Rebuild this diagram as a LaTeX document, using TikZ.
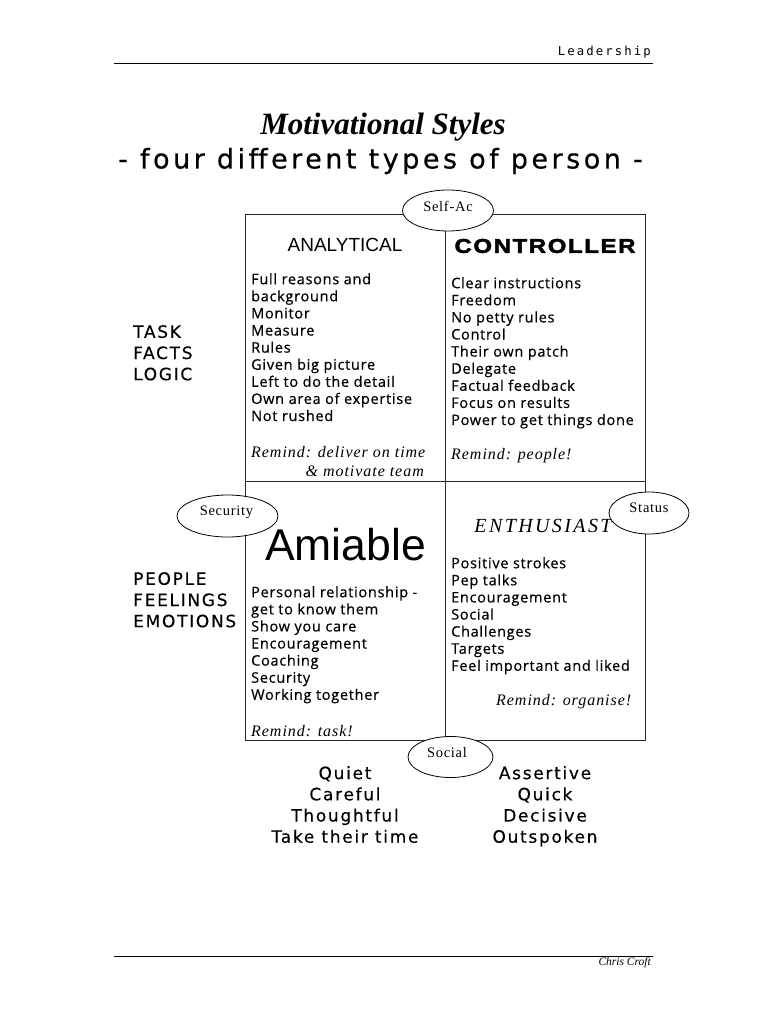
\documentclass[tikz,border=0pt]{standalone}
\usepackage{fontspec}
\setmainfont{Open Sans}
\newfontfamily\titlef{Liberation Serif}
\newfontfamily\arialf{Liberation Sans}
\newfontfamily\ctrlf[FakeBold=2.2,FakeStretch=1.2,LetterSpace=8]{Liberation Sans}
\newfontfamily\bodyf[FakeBold=0.5,LetterSpace=5]{Open Sans}
\newfontfamily\sidef[FakeBold=0.3,LetterSpace=10]{DejaVu Sans}
\newfontfamily\subf[LetterSpace=13,FakeBold=0.5]{DejaVu Sans}
\newfontfamily\hdrf[LetterSpace=17]{DejaVu Sans Mono}
\newfontfamily\remindf[LetterSpace=6]{Liberation Serif}
\newfontfamily\bubf[LetterSpace=5]{Liberation Serif}
\newfontfamily\entf[LetterSpace=12]{Liberation Serif}
\usetikzlibrary{shapes.geometric}
\tikzset{
 x=1pt,y=-1pt,
 rule/.style={line width=0.8pt,black},
 gridline/.style={line width=0.9pt,black!85},
 body/.style={anchor=north west,inner sep=0pt,align=left,font=\bodyf\fontsize{14.5}{17.1}\selectfont},
 side/.style={anchor=north west,inner sep=0pt,align=left,font=\sidef\fontsize{17}{21.2}\selectfont},
 under/.style={anchor=north,inner sep=0pt,align=center,font=\sidef\fontsize{17}{21.2}\selectfont},
 remind/.style={anchor=west,inner sep=0pt,font=\remindf\itshape\fontsize{16}{18}\selectfont},
 bub/.style={draw=black,fill=white,ellipse,line width=0.8pt,inner sep=0pt},
 bubtext/.style={inner sep=0pt,font=\bubf\fontsize{14.5}{16}\selectfont},
}
\begin{document}
\begin{tikzpicture}
\useasboundingbox[fill=white] (0,0) rectangle (768,1024);
\node[anchor=east,inner sep=0pt,font=\hdrf\fontsize{12.3}{14}\selectfont] (hdr) at (651,52) {Leadership};
\coordinate (t1) at (114,63);\coordinate (t2) at (653,63);
\draw[rule] (t1)--(t2);
\node[inner sep=0pt,font=\titlef\itshape\bfseries\fontsize{31}{34}\selectfont] (title) at (383,127) {Motivational Styles};
\node[inner sep=0pt,font=\subf\fontsize{27}{30}\selectfont] (sub) at (380.5,161) {- four dif\kern0pt ferent types of person -};
\node[draw=black!85,line width=0.9pt,minimum width=400,minimum height=526,inner sep=0pt,anchor=north west] (grid) at (245,214) {};
\coordinate (vt) at (445,214);\coordinate (vb) at (445,740);
\coordinate (hl) at (245,481);\coordinate (hr) at (645,481);
\draw[gridline] (vt)--(vb);
\draw[gridline] (hl)--(hr);
\node[inner sep=0pt,font=\arialf\fontsize{19}{22}\selectfont] (ana) at (345,245) {ANALYTICAL};
\node[inner sep=0pt,font=\ctrlf\bfseries\fontsize{20}{22}\selectfont] (con) at (545,246) {CONTROLLER};
\node[inner sep=0pt,font=\arialf\fontsize{44.5}{48}\selectfont] (ami) at (345.5,545) {Amiable};
\node[inner sep=0pt,font=\entf\itshape\fontsize{20}{22}\selectfont] (ent) at (543,526) {ENTHUSIAST};
\node[body] (b1) at (251,273) {Full reasons and\\background\\Monitor\\Measure\\Rules\\Given big picture\\Left to do the detail\\Own area of expertise\\Not rushed};
\node[body] (b2) at (451,277) {Clear instructions\\Freedom\\No petty rules\\Control\\Their own patch\\Delegate\\Factual feedback\\Focus on results\\Power to get things done};
\node[body] (b3) at (251,586) {Personal relationship -\\get to know them\\Show you care\\Encouragement\\Coaching\\Security\\Working together};
\node[body] (b4) at (451,557) {Positive strokes\\Pep talks\\Encouragement\\Social\\Challenges\\Targets\\Feel important and liked};
\node[remind] (r1) at (251,452) {Remind: deliver on time};
\node[remind,anchor=east] (r1b) at (424,471) {\& motivate team};
\node[remind] (r2) at (451,456) {Remind: people!};
\node[remind] (r3) at (251,731) {Remind: task!};
\node[remind] (r4) at (496,702) {Remind: organise!};
\node[side] (s1) at (133,325) {TASK\\FACTS\\LOGIC};
\node[side] (s2) at (133,572) {PEOPLE\\FEELINGS\\EMOTIONS};
\node[under] (u1) at (345,766) {Quiet\\Careful\\Thoughtful\\Take their time};
\node[under] (u2) at (545,766) {Assertive\\Quick\\Decisive\\Outspoken};
\node[bub,minimum width=91,minimum height=41] (e1) at (448,210.5) {};
\node[bubtext] (e1t) at (448,206) {Self-Ac};
\node[bub,minimum width=101,minimum height=42] (e2) at (227.5,516) {};
\node[bubtext] (e2t) at (226.5,512) {Security};
\node[bub,minimum width=80,minimum height=42] (e3) at (649,513) {};
\node[bubtext] (e3t) at (649,508) {Status};
\node[bub,minimum width=85,minimum height=41] (e4) at (450.5,757) {};
\node[bubtext] (e4t) at (447,753) {Social};
\coordinate (f1) at (114,956);\coordinate (f2) at (653,956);
\draw[rule] (f1)--(f2);
\node[anchor=east,inner sep=0pt,font=\titlef\itshape\fontsize{11.5}{13}\selectfont] (ft) at (651,963) {Chris Croft};
\end{tikzpicture}
\end{document}
